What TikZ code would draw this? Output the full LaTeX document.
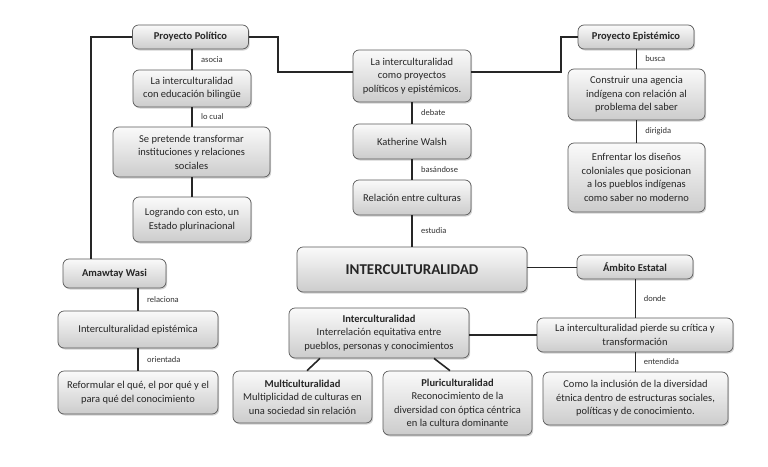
\documentclass[tikz,border=0pt]{standalone}
\usepackage{fontspec}
\setmainfont{Carlito}
\usepackage{tikz}
\usetikzlibrary{shadows, calc}

\begin{document}
\begin{tikzpicture}[x=1pt, y=-1pt,
    caja/.style={draw=black!65, line width=0.7pt, rounded corners=6pt,
        top color=gray!4, bottom color=gray!40, align=center, inner sep=2pt,
        font=\fontsize{10.5}{13.5}\selectfont, text=black!85,
        drop shadow={opacity=0.35, shadow xshift=1.2pt, shadow yshift=-1.5pt}},
    titulo/.style={caja, font=\fontsize{10.5}{13.5}\selectfont\bfseries},
    liga/.style={line width=1.6pt, black!85},
    ligafina/.style={line width=1pt, black!85},
    etiq/.style={right, xshift=5pt, font=\fontsize{8.5}{10}\selectfont, text=black!80}]
                \useasboundingbox (0,0) rectangle (768,466);

                % Proyecto Politico
                \node[titulo, minimum width=116, minimum height=24] (pp) at (190.5,37) {Proyecto Político};
                \node[caja, minimum width=118, minimum height=37] (lieb) at (192,88.5) {La interculturalidad\\con educación bilingüe};
                \node[caja, minimum width=157, minimum height=50] (spt) at (191.5,152) {Se pretende transformar\\instituciones y relaciones\\sociales};
                \node[caja, minimum width=118, minimum height=45] (lce) at (192,219.5) {Logrando con esto, un\\Estado plurinacional};

                % Columna central
                \node[caja, minimum width=118, minimum height=52] (lic) at (412,76) {La interculturalidad\\como proyectos\\políticos y epistémicos.};
                \node[caja, minimum width=118, minimum height=35] (kw) at (412,141.5) {Katherine Walsh};
                \node[caja, minimum width=118, minimum height=35] (rec) at (412,197.5) {Relación entre culturas};
                \node[caja, minimum width=230, minimum height=45, font=\fontsize{15}{18}\selectfont\bfseries] (inter) at (412,269.5) {INTERCULTURALIDAD};

                % Proyecto Epistemico
                \node[titulo, minimum width=116, minimum height=24] (pe) at (636,37) {Proyecto Epistémico};
                \node[caja, minimum width=137, minimum height=51] (cons) at (636.5,94.5) {Construir una agencia\\indígena con relación al\\problema del saber};
                \node[caja, minimum width=137, minimum height=69] (enf) at (636.5,177.5) {Enfrentar los diseños\\coloniales que posicionan\\a los pueblos indígenas\\como saber no moderno};

                % Ambito Estatal
                \node[titulo, minimum width=116, minimum height=24] (ae) at (635,267) {Ámbito Estatal};
                \node[caja, minimum width=196, minimum height=34] (pierde) at (635,335) {La interculturalidad pierde su crítica y\\transformación};
                \node[caja, minimum width=185, minimum height=53] (como) at (635.5,398.5) {Como la inclusión de la diversidad\\étnica dentro de estructuras sociales,\\políticas y de conocimiento.};

                % Inter, multi y pluri
                \node[caja, minimum width=180, minimum height=50] (intc) at (379,333) {\textbf{Interculturalidad}\\Interrelación equitativa entre\\pueblos, personas y conocimientos};
                \node[caja, minimum width=139, minimum height=52] (multi) at (302.5,397) {\textbf{Multiculturalidad}\\Multiplicidad de culturas en\\una sociedad sin relación};
                \node[caja, minimum width=149, minimum height=64] (pluri) at (457.5,403) {\textbf{Pluriculturalidad}\\Reconocimiento de la\\diversidad con óptica céntrica\\en la cultura dominante};

                % Amawtay Wasi
                \node[titulo, minimum width=103, minimum height=29] (aw) at (114.5,273.5) {Amawtay Wasi};
                \node[caja, minimum width=160, minimum height=37] (iep) at (138,329.5) {Interculturalidad epistémica};
                \node[caja, minimum width=160, minimum height=43] (ref) at (138,392.5) {Reformular el qué, el por qué y el\\para qué del conocimiento};

                % Conectores
                \coordinate (k1) at (91,37);
                \coordinate (k2) at (278,72);
                \coordinate (k3) at (561,72);
                \draw[liga] (pp.west) -- (k1) -- (k1 |- aw.north);
                \draw[liga] (pp.east) -| (k2) -- (k2 -| lic.west);
                \draw[liga] (pe.west) -| (k3) -- (k3 -| lic.east);

                \draw[liga] (pp.south -| lieb.north) -- (lieb.north) node[etiq, midway] {asocia};
                \draw[liga] (lieb.south) -- (lieb.south |- spt.north) node[etiq, midway] {lo cual};
                \draw[liga] (spt.south -| lce.north) -- (lce.north);

                \draw[liga] (lic.south) -- (kw.north) node[etiq, midway] {debate};
                \draw[liga] (kw.south) -- (rec.north) node[etiq, midway] {basándose};
                \draw[liga] (rec.south) -- (inter.north) node[etiq, midway] {estudia};

                \draw[ligafina] (pe.south -| cons.north) -- (cons.north) node[etiq, midway] {busca};
                \draw[ligafina] (cons.south) -- (enf.north) node[etiq, midway] {dirigida};

                \draw[ligafina] (inter.east |- ae.west) -- (ae.west);
                \draw[ligafina] (ae.south) -- (ae.south |- pierde.north) node[etiq, midway] {donde};
                \draw[ligafina] (pierde.south -| ae.south) -- (ae.south |- como.north) node[etiq, midway] {entendida};
                \draw[liga] (intc.east |- pierde.west) -- (pierde.west);

                \draw[liga] ([xshift=-59pt]intc.south) -- ([xshift=4.5pt]multi.north);
                \draw[liga] ([xshift=55pt]intc.south) -- ([xshift=-7.5pt]pluri.north);

                \draw[liga] (iep.north |- aw.south) -- (iep.north) node[etiq, midway] {relaciona};
                \draw[liga] (iep.south) -- (ref.north) node[etiq, midway] {orientada};
            \end{tikzpicture}
\end{document}
